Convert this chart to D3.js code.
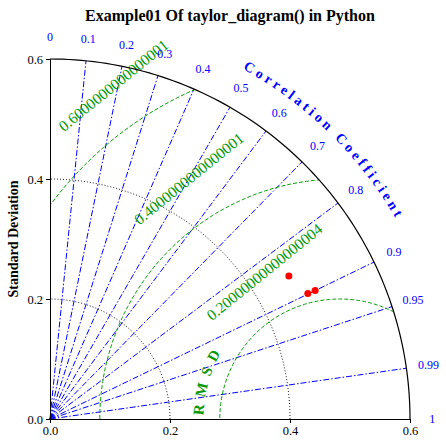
<!DOCTYPE html>
<html>
<head>
<meta charset="utf-8">
<script src="https://cdn.jsdelivr.net/npm/d3@7"></script>
<style>
  body { margin: 0; background: #fff; }
  text { font-family: "Liberation Serif", "Times New Roman", serif; }
</style>
</head>
<body>
<div id="chart"></div>
<script>
// correlation rays and their labels
var corrTicks = [0, 0.1, 0.2, 0.3, 0.4, 0.5, 0.6, 0.7, 0.8, 0.9, 0.95, 0.99, 1];
var corrLines = [0.1, 0.2, 0.3, 0.4, 0.5, 0.6, 0.7, 0.8, 0.9, 0.95, 0.99];
// standard deviation axis
var stdTicks = [0, 0.2, 0.4, 0.6];
var stdArcs = [0.2, 0.4];
var stdMax = 0.6;
// centred RMS difference contours
var refStd = 0.483;
var rmsdLevels = [0.2, 0.4, 0.6];
var rmsdLabels = ["0.20000000000000004", "0.4000000000000001", "0.6000000000000001"];
// model points
var modelStd = [0.464, 0.478, 0.491];
var modelCorr = [0.858, 0.899, 0.900];

var width = 446, height = 448;
var svg = d3.select("#chart").append("svg")
  .attr("width", width)
  .attr("height", height);

var x = d3.scaleLinear().domain([0, stdMax]).range([50, 410]);
var y = d3.scaleLinear().domain([0, stdMax]).range([419, 59]);
var px = 360 / stdMax; // pixels per unit

var rad = a => a * Math.PI / 180;
var polar = (s, c) => [s * c, s * Math.sqrt(1 - c * c)];
var line = d3.line().x(d => x(d[0])).y(d => y(d[1]));

// clip to the quarter disc
svg.append("clipPath").attr("id", "quarter")
  .append("path")
  .attr("d", `M${x(0)},${y(0)} L${x(stdMax)},${y(0)} A${px * stdMax},${px * stdMax} 0 0 0 ${x(0)},${y(stdMax)} Z`);

// correlation rays
svg.append("g")
  .selectAll("path")
  .data(corrLines)
  .enter()
  .append("path")
  .attr("d", c => line([[0, 0], polar(stdMax, c)]))
  .attr("fill", "none")
  .attr("stroke", "blue")
  .attr("stroke-width", 1)
  .attr("stroke-dasharray", "6,2,1.5,2");

// std dev dotted arcs
var arcPts = r => d3.range(0, 91).map(a => [r * Math.cos(rad(a)), r * Math.sin(rad(a))]);
svg.append("g")
  .selectAll("path")
  .data(stdArcs)
  .enter()
  .append("path")
  .attr("d", r => line(arcPts(r)))
  .attr("fill", "none")
  .attr("stroke", "black")
  .attr("stroke-width", 0.9)
  .attr("stroke-dasharray", "1,2");

// RMSD contours
var green = "#0a990a";
var rmsPts = r => d3.range(0, 181).map(a => [refStd + r * Math.cos(rad(a)), r * Math.sin(rad(a))]);
svg.append("g")
  .attr("clip-path", "url(#quarter)")
  .selectAll("path")
  .data(rmsdLevels)
  .enter()
  .append("path")
  .attr("d", r => line(rmsPts(r)))
  .attr("fill", "none")
  .attr("stroke", green)
  .attr("stroke-width", 1)
  .attr("stroke-dasharray", "4,2");

// RMSD contour labels: tangent to each circle at 129 deg, lifted a bit
var labAng = 129;
svg.append("g")
  .selectAll("text")
  .data(rmsdLevels)
  .enter()
  .append("text")
  .attr("transform", r => {
    var lx = x(refStd + r * Math.cos(rad(labAng)));
    var ly = y(0.09 + r * Math.sin(rad(labAng)));
    return `translate(${lx},${ly}) rotate(${labAng - 90 - 78})`;
  })
  .attr("text-anchor", "middle")
  .attr("dominant-baseline", "central")
  .attr("fill", green)
  .attr("font-size", 15.5)
  .text((r, i) => rmsdLabels[i]);

// outer arc
svg.append("path")
  .attr("d", line(arcPts(stdMax)))
  .attr("fill", "none")
  .attr("stroke", "black")
  .attr("stroke-width", 1.2);

// axes
svg.append("g")
  .attr("transform", `translate(0,${y(0)})`)
  .call(d3.axisBottom(x).tickValues(stdTicks).tickFormat(d3.format(".1f")).tickSizeOuter(0).tickSize(4))
  .call(g => g.selectAll("text").attr("font-size", 12.5).attr("font-family", "Liberation Serif").attr("fill", "black"));
svg.append("g")
  .attr("transform", `translate(${x(0)},0)`)
  .call(d3.axisLeft(y).tickValues(stdTicks).tickFormat(d3.format(".1f")).tickSizeOuter(0).tickSize(4))
  .call(g => g.selectAll("text").attr("font-size", 12.5).attr("font-family", "Liberation Serif").attr("fill", "black"));

// correlation tick labels
var labR = 0.637;
svg.append("g")
  .selectAll("text")
  .data(corrTicks)
  .enter()
  .append("text")
  .attr("x", c => x(polar(labR, c)[0]))
  .attr("y", c => y(polar(labR, c)[1]))
  .attr("text-anchor", "middle")
  .attr("dominant-baseline", "central")
  .attr("fill", "blue")
  .attr("font-size", 12)
  .text(c => String(c));

// curved axis titles
var ccR = 0.666;
svg.append("path").attr("id", "ccPath")
  .attr("d", `M${x(0)},${y(ccR)} A${px * ccR},${px * ccR} 0 0 1 ${x(ccR)},${y(0)}`)
  .attr("fill", "none");
svg.append("text")
  .attr("fill", "blue")
  .attr("font-size", 14)
  .attr("font-weight", "bold")
  .attr("letter-spacing", 3.5)
  .append("textPath")
  .attr("href", "#ccPath")
  .attr("startOffset", "49.5%")
  .attr("text-anchor", "middle")
  .text("Correlation Coefficient");

var rmR = 0.227;
svg.append("path").attr("id", "rmPath")
  .attr("d", `M${x(refStd - rmR)},${y(0)} A${px * rmR},${px * rmR} 0 0 1 ${x(refStd)},${y(rmR)}`)
  .attr("fill", "none");
svg.append("text")
  .attr("fill", green)
  .attr("font-size", 15)
  .attr("font-weight", "bold")
  .attr("letter-spacing", 7)
  .append("textPath")
  .attr("href", "#rmPath")
  .attr("startOffset", rad(180 - 164.8) * rmR * px + 3.5)
  .attr("text-anchor", "middle")
  .text("RMSD");

// model points
svg.append("g")
  .selectAll("circle")
  .data(modelStd)
  .enter()
  .append("circle")
  .attr("cx", (s, i) => x(polar(s, modelCorr[i])[0]))
  .attr("cy", (s, i) => y(polar(s, modelCorr[i])[1]))
  .attr("r", 3.5)
  .attr("fill", "red");

// titles
svg.append("text")
  .attr("x", 230)
  .attr("y", 21)
  .attr("text-anchor", "middle")
  .attr("font-size", 16)
  .attr("font-weight", "bold")
  .text("Example01 Of taylor_diagram() in Python");

svg.append("text")
  .attr("transform", `translate(18,${y(0.3)}) rotate(-90)`)
  .attr("text-anchor", "middle")
  .attr("font-size", 14)
  .attr("font-weight", "bold")
  .text("Standard Deviation");
</script>
</body>
</html>
